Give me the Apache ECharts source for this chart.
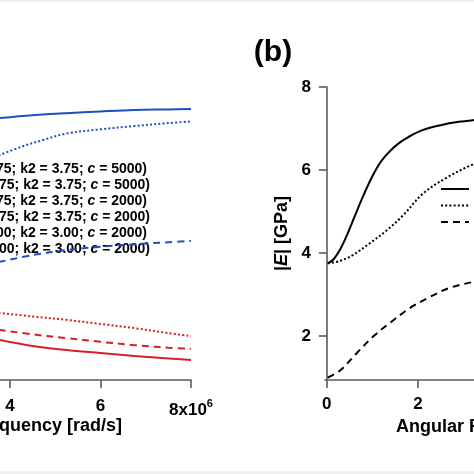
<!DOCTYPE html>
<html>
<head>
<meta charset="utf-8">
<style>html,body{margin:0;padding:0;background:#fff;}#c{width:474px;height:474px;}</style>
<script src="https://cdn.jsdelivr.net/npm/echarts@6/dist/echarts.min.js"></script>
</head>
<body>
<div id="c"></div>
<script>
// ---- data (panel a, visible part) ----
const xTicks = [0, 2, 4, 6, 8];
const yTicks = [2, 4, 6, 8];
const aBlueSolid  = [[3.75,7.25],[4.5,7.32],[5.25,7.37],[6,7.41],[6.75,7.445],[7.5,7.46],[8,7.47]];
const aBlueDotted = [[3.75,6.35],[4.25,6.56],[4.75,6.73],[5.25,6.88],[6,6.98],[6.75,7.06],[7.5,7.13],[8,7.17]];
const aBlueDashed = [[3.75,3.78],[4.5,3.95],[5.25,4.07],[6,4.15],[6.75,4.21],[7.5,4.26],[8,4.29]];
const aRedDotted  = [[3.75,2.56],[4.5,2.47],[5.25,2.39],[6,2.29],[6.75,2.19],[7.5,2.07],[8,2.0]];
const aRedDashed  = [[3.75,2.15],[4.5,2.04],[5.25,1.95],[6,1.86],[6.75,1.78],[7.5,1.72],[8,1.69]];
const aRedSolid   = [[3.75,1.91],[4.5,1.76],[5.25,1.66],[6,1.59],[6.75,1.52],[7.5,1.46],[8,1.42]];
// ---- data (panel b, visible part) ----
const bSolid  = [[0.02,3.75],[0.15,3.85],[0.3,4.1],[0.45,4.45],[0.6,4.85],[0.75,5.25],[0.9,5.62],[1.05,5.95],[1.2,6.22],[1.4,6.47],[1.6,6.66],[1.8,6.8],[2.1,6.96],[2.5,7.08],[2.9,7.16],[3.3,7.21],[3.6,7.24]];
const bDotted = [[0.02,3.75],[0.29,3.81],[0.57,3.95],[0.95,4.24],[1.32,4.55],[1.67,4.9],[2.11,5.43],[2.64,5.82],[3.2,6.13],[3.6,6.28]];
const bDashed = [[0.02,1.0],[0.29,1.17],[0.66,1.59],[1.01,1.98],[1.38,2.31],[1.82,2.67],[2.26,2.94],[2.7,3.16],[3.2,3.3],[3.6,3.38]];
const legendNames = ['(k1 = 3.75; k2 = 3.75; c = 5000)', '(k1 = 3.75; k2 = 3.75; c = 2000)', '(k1 = 3.00; k2 = 3.00; c = 2000)'];
const legendRowsA = [
  ['3.75','3.75','5000'],['3.75','3.75','5000'],
  ['3.75','3.75','2000'],['3.75','3.75','2000'],
  ['3.00','3.00','2000'],['3.00','3.00','2000']
];
const xTitle = 'Angular Frequency [rad/s]';

const BLUE = '#1d4fc4', RED = '#d42027', AX = '#5a5a5a';
const FONT = 'Liberation Sans, Arial, sans-serif';

function axisCommon(){
  return {
    axisLine:{show:true, lineStyle:{color:AX, width:1.6}},
    axisTick:{show:true, inside:false, length:8, lineStyle:{color:AX, width:1.6}},
    splitLine:{show:false},
    axisLabel:{color:'#000', fontFamily:FONT, fontWeight:'bold', fontSize:17}
  };
}
const xa0 = axisCommon();
xa0.axisLabel.margin = 18;
xa0.axisLabel.formatter = v => v === 8 ? '{m|8x10}{s|6}' : String(v);
xa0.axisLabel.rich = {
  m:{fontFamily:FONT, fontWeight:'bold', fontSize:17, lineHeight:17, verticalAlign:'bottom', color:'#000'},
  s:{fontFamily:FONT, fontWeight:'bold', fontSize:11, lineHeight:21, verticalAlign:'top', color:'#000'}
};
const xa1 = axisCommon();
xa1.axisLabel.margin = 16;
xa1.axisLabel.customValues = xTicks;
xa1.axisTick.customValues = xTicks;
const ya1 = axisCommon();
ya1.axisLabel.margin = 14;
ya1.axisLabel.customValues = yTicks;
ya1.axisTick.customValues = yTicks;

function line(name, data, color, type, xi){
  return {name, type:'line', xAxisIndex:xi, yAxisIndex:xi, data, smooth:0.35, symbol:'none',
    lineStyle:{color, width:2, type}, itemStyle:{color}, z:3, silent:true};
}
const DOT = [2,2.2], DASH = [7,5];

const legendGraphics = legendRowsA.map((r,i)=>({
  type:'text', x: i%2===0 ? 147 : 150, y: 169 + i*16,
  style:{text:'{r|(k1 = '+r[0]+'; k2 = '+r[1]+'; }{i|c}{r| = '+r[2]+')}', align:'right', verticalAlign:'middle',
    rich:{r:{fontFamily:FONT, fontWeight:'bold', fontSize:14, fill:'#000'},
          i:{fontFamily:FONT, fontWeight:'bold', fontStyle:'italic', fontSize:14, fill:'#000'}}}
}));

const titleStyle = {fontFamily:FONT, fontWeight:'bold', fontSize:18, color:'#000'};
const option = {
  animation:false,
  backgroundColor:'#fff',
  grid:[
    {left:-171, top:87, width:362, height:293, outerBoundsMode:'none', containLabel:false},
    {left:325, top:87, width:366, height:293, outerBoundsMode:'none', containLabel:false}
  ],
  xAxis:[
    Object.assign({type:'value', gridIndex:0, min:0, max:8, interval:2, name:xTitle, nameLocation:'middle', nameGap:37,
      nameMoveOverlap:false, nameTextStyle:titleStyle}, xa0),
    Object.assign({type:'value', gridIndex:1, min:-0.04, max:8, name:xTitle, nameLocation:'middle', nameGap:38,
      nameMoveOverlap:false, nameTextStyle:titleStyle}, xa1)
  ],
  yAxis:[
    {type:'value', gridIndex:0, min:0.94, max:8, show:false},
    Object.assign({type:'value', gridIndex:1, min:0.94, max:8,
      name:'{n||}{i|E}{n|| [GPa]}', nameLocation:'middle', nameGap:34, nameRotate:90, nameMoveOverlap:false,
      nameTextStyle:{fontFamily:FONT, fontWeight:'bold', fontSize:18, color:'#000',
        rich:{n:{fontFamily:FONT, fontWeight:'bold', fontSize:18, color:'#000'},
              i:{fontFamily:FONT, fontWeight:'bold', fontStyle:'italic', fontSize:18, color:'#000'}}}}, ya1)
  ],
  legend:{
    left:440, top:182, padding:0, orient:'vertical', itemWidth:28, itemHeight:14, itemGap:2.5,
    itemStyle:{opacity:0}, lineStyle:{width:2},
    data:legendNames, selectedMode:false,
    textStyle:{fontFamily:FONT, fontWeight:'bold', fontSize:14, color:'#000'}
  },
  series:[
    line(legendNames[0], bSolid, '#000', 'solid', 1),
    line(legendNames[1], bDotted, '#000', DOT, 1),
    line(legendNames[2], bDashed, '#000', DASH, 1),
    line('a: blue ' + legendNames[0], aBlueSolid, BLUE, 'solid', 0),
    line('a: blue ' + legendNames[1], aBlueDotted, BLUE, DOT, 0),
    line('a: blue ' + legendNames[2], aBlueDashed, BLUE, DASH, 0),
    line('a: red ' + legendNames[0], aRedSolid, RED, 'solid', 0),
    line('a: red ' + legendNames[1], aRedDotted, RED, DOT, 0),
    line('a: red ' + legendNames[2], aRedDashed, RED, DASH, 0)
  ],
  graphic:[
    {type:'rect', shape:{x:0,y:0,width:474,height:2}, style:{fill:'#eeeeee'}, z:10},
    {type:'rect', shape:{x:0,y:471,width:474,height:3}, style:{fill:'#f0f0f0'}, z:10},
    {type:'text', x:273, y:53, style:{text:'(b)', align:'center', verticalAlign:'middle',
      fontFamily:FONT, fontWeight:'bold', fontSize:30, fill:'#000'}}
  ].concat(legendGraphics)
};
const chart = echarts.init(document.getElementById('c'), null, {renderer:'canvas'});
chart.setOption(option);
</script>
</body>
</html>
